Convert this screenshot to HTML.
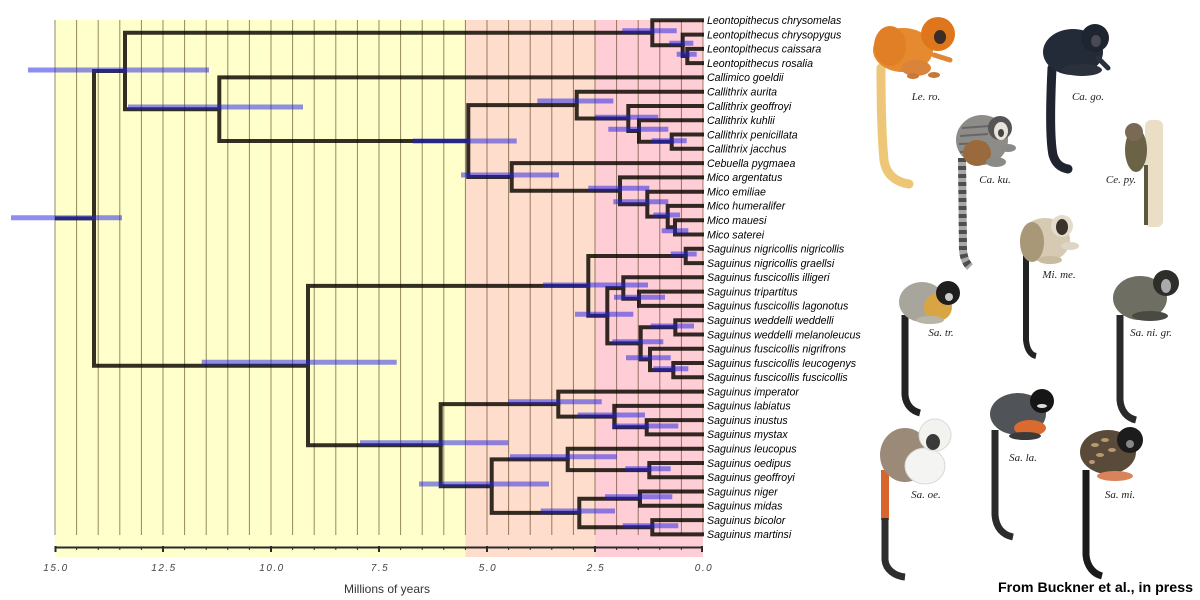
<!DOCTYPE html>
<html>
<head>
<meta charset="utf-8">
<style>
html,body{margin:0;padding:0;background:#fff;}
svg{display:block;}
.lab{font-family:"Liberation Sans",Arial,sans-serif;font-style:italic;font-size:10.6px;fill:#000;}
.tick{font-family:"Liberation Sans",Arial,sans-serif;font-style:italic;font-size:10px;fill:#444;letter-spacing:1.5px;}
.ml{font-family:"Liberation Serif","Times New Roman",serif;font-style:italic;font-size:11px;fill:#222;}
</style>
</head>
<body>
<svg width="1200" height="600" viewBox="0 0 1200 600" xmlns="http://www.w3.org/2000/svg">
<rect width="1200" height="600" fill="#fff"/>
<!-- backgrounds -->
<rect x="55" y="20" width="410.4" height="537" fill="#FFFFCC"/>
<rect x="465.4" y="20" width="129.6" height="537" fill="#FFDDCC"/>
<rect x="595" y="20" width="108" height="537" fill="#FFCDD6"/>
<!-- gridlines -->
<path stroke="rgba(60,40,0,0.55)" stroke-width="1" fill="none" d="M55 20V535M76.6 20V535M98.2 20V535M119.8 20V535M141.4 20V535M163 20V535M184.6 20V535M206.2 20V535M227.8 20V535M249.4 20V535M271 20V535M292.6 20V535M314.2 20V535M335.8 20V535M357.4 20V535M379 20V535M400.6 20V535M422.2 20V535M443.8 20V535M465.4 20V535M487 20V535M508.6 20V535M530.2 20V535M551.8 20V535M573.4 20V535M595 20V535M616.6 20V535M638.2 20V535M659.8 20V535M681.4 20V535M703 20V535"/>
<!-- axis -->
<path stroke="#2a2a2a" stroke-width="2" fill="none" d="M55 547.5H703"/>
<path stroke="#2a2a2a" stroke-width="1" fill="none" d="M76.6 547V550M98.2 547V550M119.8 547V550M141.4 547V550M184.6 547V550M206.2 547V550M227.8 547V550M249.4 547V550M292.6 547V550M314.2 547V550M335.8 547V550M357.4 547V550M400.6 547V550M422.2 547V550M443.8 547V550M465.4 547V550M508.6 547V550M530.2 547V550M551.8 547V550M573.4 547V550M616.6 547V550M638.2 547V550M659.8 547V550M681.4 547V550"/>
<path stroke="#2a2a2a" stroke-width="2" fill="none" d="M55.5 546V552M163 546V552M271 546V552M379 546V552M487 546V552M595 546V552M702 546V552"/>
<g class="tick" text-anchor="middle">
<text x="56" y="571">15.0</text>
<text x="164" y="571">12.5</text>
<text x="272" y="571">10.0</text>
<text x="380" y="571">7.5</text>
<text x="488" y="571">5.0</text>
<text x="596" y="571">2.5</text>
<text x="704" y="571">0.0</text>
</g>
<text x="387" y="593" text-anchor="middle" font-family="Liberation Sans, Arial, sans-serif" font-size="12" fill="#333">Millions of years</text>
<!-- tree -->
<g stroke="#33302a" stroke-width="4" fill="none" stroke-linecap="square" stroke-linejoin="miter" style="mix-blend-mode:multiply">
<path d="M57 218.4H94"/>
<path d="M125 71H94V365.8H308"/>
<path d="M652.3 32.8H125V109.2H219.3"/>
<path d="M702 20.3H652.3V45.3H682.7"/>
<path d="M702 34.6H682.7V56H687.3"/>
<path d="M702 48.9H687.3V63.1H702"/>
<path d="M702 77.4H219.3V141H468.3"/>
<path d="M576.7 105.1H468.3V177H511.7"/>
<path d="M702 91.7H576.7V118.5H628.3"/>
<path d="M702 106H628.3V131H639"/>
<path d="M702 120.3H639V141.7H671.7"/>
<path d="M702 134.5H671.7V148.8H702"/>
<path d="M702 163.1H511.7V190.8H620"/>
<path d="M702 177.4H620V204.2H647.3"/>
<path d="M702 191.7H647.3V216.6H667.7"/>
<path d="M702 205.9H667.7V227.3H675"/>
<path d="M702 220.2H675V234.5H702"/>
<path d="M588.3 285.9H308V445.2H440.7"/>
<path d="M685.7 256H588.3V315.7H607.3"/>
<path d="M702 248.8H685.7V263.1H702"/>
<path d="M623.3 288.1H607.3V343.4H640.7"/>
<path d="M702 277.3H623.3V298.8H639"/>
<path d="M702 291.6H639V305.9H702"/>
<path d="M675.3 327.3H640.7V359.4H650"/>
<path d="M702 320.2H675.3V334.5H702"/>
<path d="M702 348.7H650V370.1H673.3"/>
<path d="M702 363H673.3V377.3H702"/>
<path d="M558.3 404.1H440.7V486.2H491.7"/>
<path d="M702 391.6H558.3V416.6H614.3"/>
<path d="M702 405.9H614.3V427.3H646.7"/>
<path d="M702 420.1H646.7V434.4H702"/>
<path d="M567.7 459.4H491.7V512.9H579.3"/>
<path d="M702 448.7H567.7V470.1H649.3"/>
<path d="M702 463H649.3V477.3H702"/>
<path d="M640 498.7H579.3V527.2H652.3"/>
<path d="M702 491.5H640V505.8H702"/>
<path d="M702 520.1H652.3V534.4H702"/>
</g>
<!-- HPD bars -->
<g stroke="rgba(30,30,230,0.5)" stroke-width="5" fill="none">
<path d="M28 70H209"/>
<path d="M128 107H303"/>
<path d="M11 217.7H122"/>
<path d="M201.7 362.3H396.7"/>
<path d="M360 442.7H508.3"/>
<path d="M419 484H549"/>
<path d="M622.3 30.7H676.7"/>
<path d="M669.3 43.3H693.3"/>
<path d="M676.7 54.3H696.7"/>
<path d="M537.3 101H613.3"/>
<path d="M595 117.3H658.3"/>
<path d="M608.3 129.3H668.3"/>
<path d="M651.7 140.7H686.7"/>
<path d="M412.7 141H516.7"/>
<path d="M461 175H559"/>
<path d="M588.3 188.3H649.3"/>
<path d="M613.3 201.7H668.3"/>
<path d="M653.3 215H680"/>
<path d="M661.7 230.7H688.3"/>
<path d="M670.7 254H696.7"/>
<path d="M543 285H648"/>
<path d="M614 297.3H665"/>
<path d="M575 314.3H633.3"/>
<path d="M650.7 326H694"/>
<path d="M612.3 341.7H663.3"/>
<path d="M626 357.7H670.7"/>
<path d="M653.3 368.7H688.3"/>
<path d="M508.3 401.7H601.7"/>
<path d="M577.7 415H645"/>
<path d="M612.3 426H678.3"/>
<path d="M510 456.7H616.7"/>
<path d="M625.3 468.7H670.7"/>
<path d="M605 496.7H672.3"/>
<path d="M540.7 511H615"/>
<path d="M622.7 525.7H678.3"/>
</g>
<!-- tip labels -->
<g class="lab">
<text x="707" y="24.1">Leontopithecus chrysomelas</text>
<text x="707" y="38.4">Leontopithecus chrysopygus</text>
<text x="707" y="52.7">Leontopithecus caissara</text>
<text x="707" y="66.9">Leontopithecus rosalia</text>
<text x="707" y="81.2">Callimico goeldii</text>
<text x="707" y="95.5">Callithrix aurita</text>
<text x="707" y="109.8">Callithrix geoffroyi</text>
<text x="707" y="124.1">Callithrix kuhlii</text>
<text x="707" y="138.3">Callithrix penicillata</text>
<text x="707" y="152.6">Callithrix jacchus</text>
<text x="707" y="166.9">Cebuella pygmaea</text>
<text x="707" y="181.2">Mico argentatus</text>
<text x="707" y="195.5">Mico emiliae</text>
<text x="707" y="209.7">Mico humeralifer</text>
<text x="707" y="224">Mico mauesi</text>
<text x="707" y="238.3">Mico saterei</text>
<text x="707" y="252.6">Saguinus nigricollis nigricollis</text>
<text x="707" y="266.9">Saguinus nigricollis graellsi</text>
<text x="707" y="281.1">Saguinus fuscicollis illigeri</text>
<text x="707" y="295.4">Saguinus tripartitus</text>
<text x="707" y="309.7">Saguinus fuscicollis lagonotus</text>
<text x="707" y="324">Saguinus weddelli weddelli</text>
<text x="707" y="338.3">Saguinus weddelli melanoleucus</text>
<text x="707" y="352.5">Saguinus fuscicollis nigrifrons</text>
<text x="707" y="366.8">Saguinus fuscicollis leucogenys</text>
<text x="707" y="381.1">Saguinus fuscicollis fuscicollis</text>
<text x="707" y="395.4">Saguinus imperator</text>
<text x="707" y="409.7">Saguinus labiatus</text>
<text x="707" y="423.9">Saguinus inustus</text>
<text x="707" y="438.2">Saguinus mystax</text>
<text x="707" y="452.5">Saguinus leucopus</text>
<text x="707" y="466.8">Saguinus oedipus</text>
<text x="707" y="481.1">Saguinus geoffroyi</text>
<text x="707" y="495.3">Saguinus niger</text>
<text x="707" y="509.6">Saguinus midas</text>
<text x="707" y="523.9">Saguinus bicolor</text>
<text x="707" y="538.2">Saguinus martinsi</text>
</g>

<!-- Monkeys -->
<!-- Le. ro. -->
<g>
<path d="M881 68 C881 110 882 140 884 160 C886 175 896 182 909 184" stroke="#EDC777" stroke-width="9" fill="none" stroke-linecap="round"/>
<ellipse cx="903" cy="50" rx="30" ry="22" fill="#E58A2E"/>
<ellipse cx="890" cy="46" rx="16" ry="20" fill="#E07F25"/>
<ellipse cx="916" cy="68" rx="15" ry="8" fill="#D9843A"/>
<ellipse cx="913" cy="76" rx="6" ry="3" fill="#C87838"/>
<ellipse cx="934" cy="75" rx="6" ry="3" fill="#C87838"/>
<path d="M934 55 L950 60" stroke="#DD8838" stroke-width="5" stroke-linecap="round"/>
<circle cx="938" cy="34" r="17" fill="#E0761C"/>
<ellipse cx="940" cy="37" rx="6" ry="7" fill="#3b2e28"/>
</g>
<!-- Ca. go. -->
<g>
<path d="M1052 68 C1050 110 1050 140 1053 155 C1056 165 1062 168 1068 169" stroke="#1f2430" stroke-width="9" fill="none" stroke-linecap="round"/>
<ellipse cx="1073" cy="52" rx="30" ry="23" fill="#232a38"/>
<ellipse cx="1082" cy="70" rx="20" ry="6" fill="#2a303c"/>
<path d="M1098 58 L1108 68" stroke="#2a303c" stroke-width="5" stroke-linecap="round"/>
<circle cx="1095" cy="38" r="14" fill="#1e2430"/>
<ellipse cx="1096" cy="41" rx="5" ry="6" fill="#4a4a55"/>
</g>
<!-- Ca. ku. -->
<g>
<path d="M962 158 L963 250 C964 260 967 264 970 267" stroke="#a8a8a6" stroke-width="8" fill="none"/>
<path d="M962 158 L963 250 C964 260 967 264 970 267" stroke="#4e4e4e" stroke-width="8" fill="none" stroke-dasharray="4 4"/>
<ellipse cx="982" cy="140" rx="26" ry="25" fill="#8e8c88"/>
<path d="M962 128 L990 126 M960 136 L988 134 M959 144 L986 143 M960 152 L984 151" stroke="#666" stroke-width="2"/>
<ellipse cx="977" cy="153" rx="14" ry="13" fill="#9b6a3c"/>
<ellipse cx="996" cy="162" rx="10" ry="5" fill="#8a8a86"/>
<ellipse cx="1008" cy="148" rx="8" ry="4" fill="#8a8a86"/>
<circle cx="1000" cy="128" r="12" fill="#555"/>
<ellipse cx="1001" cy="131" rx="7" ry="9" fill="#e8e4dc"/>
<ellipse cx="1001" cy="133" rx="3" ry="4" fill="#444"/>
</g>
<!-- Ce. py. -->
<g>
<rect x="1145" y="120" width="18" height="107" rx="6" fill="#EADFC6"/>
<path d="M1146 165 L1146 225" stroke="#5d573f" stroke-width="4"/>
<ellipse cx="1136" cy="150" rx="11" ry="22" fill="#6a6345"/>
<circle cx="1134" cy="132" r="9" fill="#7a6a55"/>
</g>
<!-- Mi. me. -->
<g>
<path d="M1026 255 L1026 340 C1027 350 1031 355 1036 356" stroke="#222" stroke-width="6" fill="none"/>
<ellipse cx="1045" cy="240" rx="25" ry="22" fill="#d6cbb2"/>
<ellipse cx="1032" cy="242" rx="12" ry="20" fill="#a89878"/>
<ellipse cx="1070" cy="246" rx="9" ry="4" fill="#ddd5c5"/>
<ellipse cx="1050" cy="260" rx="12" ry="4" fill="#c8bca0"/>
<circle cx="1062" cy="226" r="11" fill="#e4dccb"/>
<ellipse cx="1062" cy="227" rx="6" ry="8" fill="#3a332c"/>
</g>
<!-- Sa. tr. -->
<g>
<path d="M905 315 L905 395 C906 405 912 411 920 413" stroke="#222" stroke-width="7" fill="none"/>
<ellipse cx="922" cy="302" rx="23" ry="20" fill="#a8a69c"/>
<ellipse cx="938" cy="307" rx="14" ry="14" fill="#d9a544"/>
<ellipse cx="930" cy="320" rx="14" ry="4" fill="#b8b4a8"/>
<circle cx="948" cy="293" r="12" fill="#1e1e1e"/>
<ellipse cx="949" cy="297" rx="4" ry="4" fill="#ccc"/>
</g>
<!-- Sa. ni. gr. -->
<g>
<path d="M1120 315 L1120 400 C1121 412 1128 418 1136 420" stroke="#2a2a2a" stroke-width="7" fill="none"/>
<ellipse cx="1140" cy="298" rx="27" ry="22" fill="#6f6e62"/>
<ellipse cx="1150" cy="316" rx="18" ry="5" fill="#4a4a44"/>
<circle cx="1166" cy="283" r="13" fill="#2d2d2a"/>
<ellipse cx="1166" cy="286" rx="5" ry="7" fill="#aaa"/>
</g>
<!-- Sa. la. -->
<g>
<path d="M995 430 L995 515 C996 528 1003 535 1013 537" stroke="#2b2b2b" stroke-width="7" fill="none"/>
<ellipse cx="1018" cy="414" rx="28" ry="21" fill="#505458"/>
<ellipse cx="1030" cy="428" rx="16" ry="8" fill="#d96a30"/>
<ellipse cx="1025" cy="436" rx="16" ry="4" fill="#3a3a3a"/>
<circle cx="1042" cy="401" r="12" fill="#161616"/>
<ellipse cx="1042" cy="406" rx="5" ry="2" fill="#ddd"/>
</g>
<!-- Sa. oe. -->
<g>
<path d="M885 470 L885 520" stroke="#d8662c" stroke-width="8" fill="none"/>
<path d="M885 518 L885 560 C886 570 895 576 905 577" stroke="#2e2e2e" stroke-width="7" fill="none"/>
<ellipse cx="905" cy="455" rx="25" ry="27" fill="#9c8a78"/>
<ellipse cx="925" cy="466" rx="20" ry="18" fill="#f4f4f2" stroke="#d8d8d8"/>
<circle cx="935" cy="435" r="16" fill="#f2f2ee" stroke="#d8d8d8"/>
<ellipse cx="933" cy="442" rx="7" ry="8" fill="#3a3a3a"/>
</g>
<!-- Sa. mi. -->
<g>
<path d="M1086 470 L1086 555 C1087 567 1094 574 1102 576" stroke="#1b1b1b" stroke-width="7" fill="none"/>
<ellipse cx="1108" cy="452" rx="28" ry="22" fill="#5a4a3a"/>
<g fill="#b89a70">
<ellipse cx="1095" cy="445" rx="4" ry="2"/>
<ellipse cx="1105" cy="440" rx="4" ry="2"/>
<ellipse cx="1100" cy="455" rx="4" ry="2"/>
<ellipse cx="1112" cy="450" rx="4" ry="2"/>
<ellipse cx="1092" cy="462" rx="3" ry="2"/>
</g>
<ellipse cx="1115" cy="476" rx="18" ry="5" fill="#d9835a"/>
<circle cx="1130" cy="440" r="13" fill="#1c1c1c"/>
<ellipse cx="1130" cy="444" rx="4" ry="4" fill="#888"/>
</g>
<!-- Monkey labels -->
<g class="ml" text-anchor="middle">
<text x="926" y="100">Le. ro.</text>
<text x="1088" y="100">Ca. go.</text>
<text x="995" y="183">Ca. ku.</text>
<text x="1121" y="183">Ce. py.</text>
<text x="1059" y="278">Mi. me.</text>
<text x="941" y="336">Sa. tr.</text>
<text x="1151" y="336">Sa. ni. gr.</text>
<text x="1023" y="461">Sa. la.</text>
<text x="926" y="498">Sa. oe.</text>
<text x="1120" y="498">Sa. mi.</text>
</g>
<text x="998" y="592" font-family="Liberation Sans, Arial, sans-serif" font-weight="bold" font-size="14" fill="#000" textLength="195" lengthAdjust="spacingAndGlyphs">From Buckner et al., in press</text>
</svg>
</body>
</html>
